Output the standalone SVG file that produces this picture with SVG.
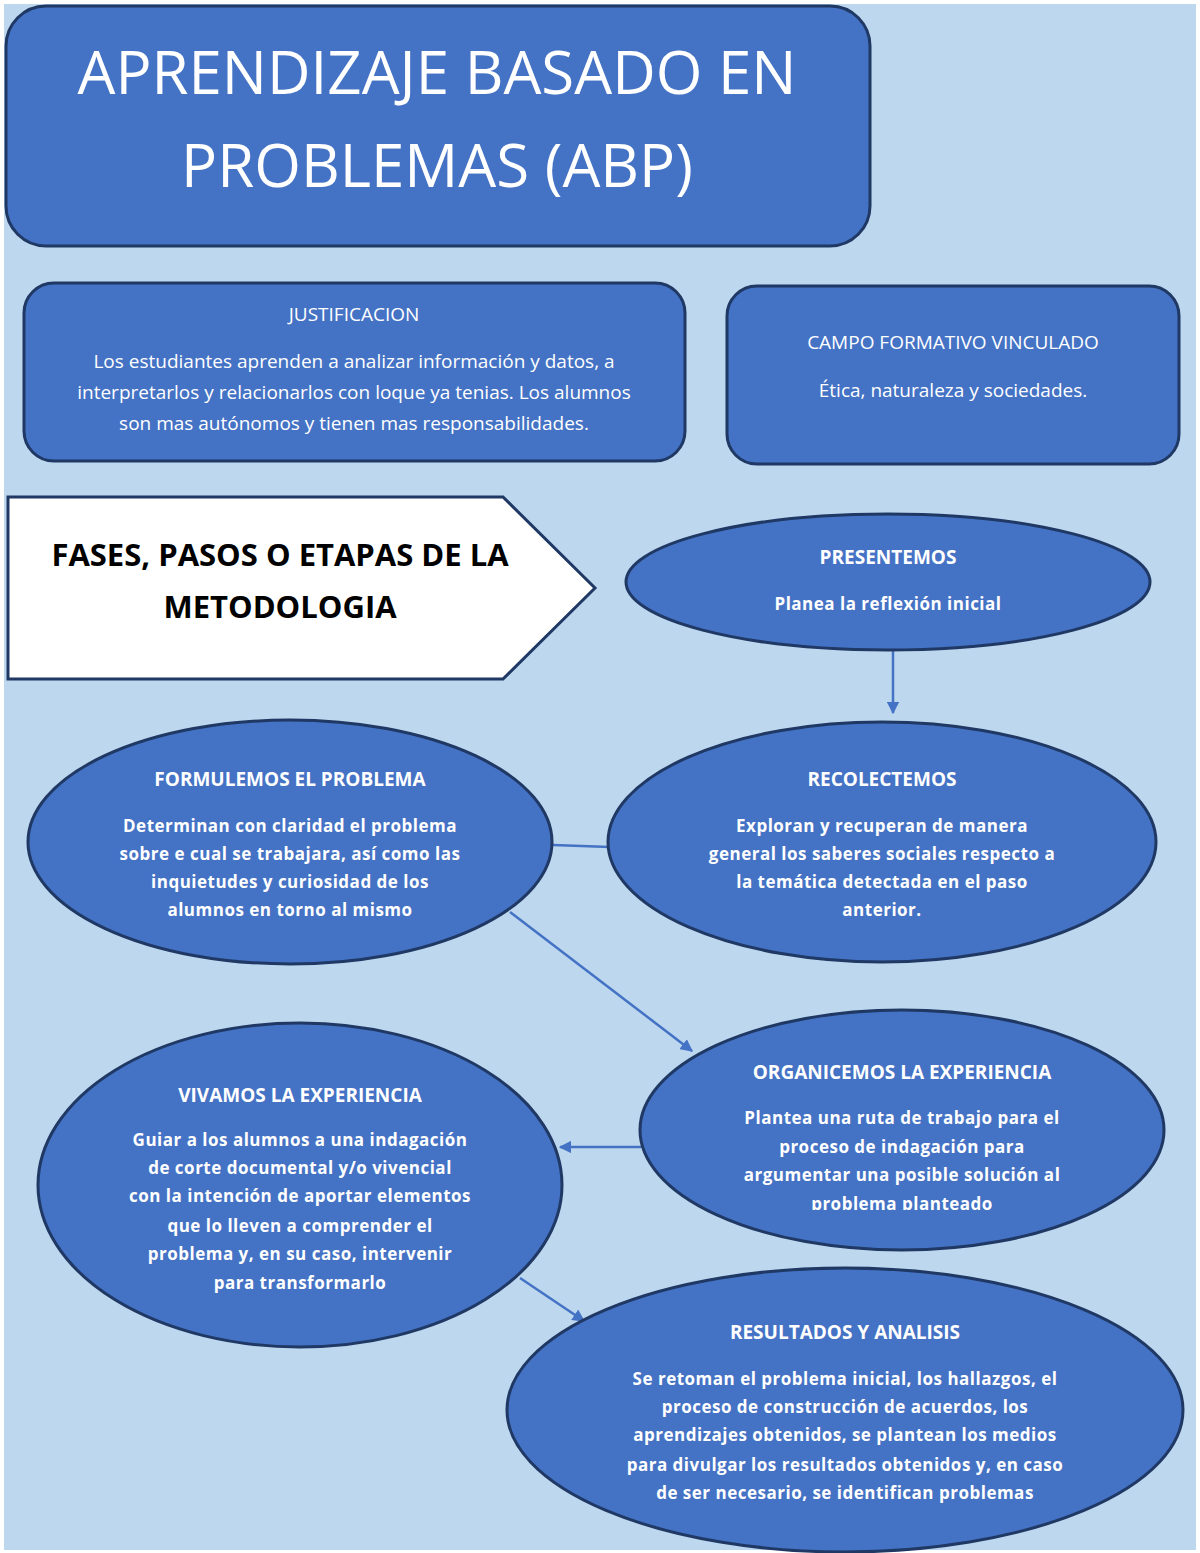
<svg xmlns="http://www.w3.org/2000/svg" width="1200" height="1553" viewBox="0 0 1200 1553">
<style>
.n{fill:#4472C4;stroke:#1F3864;stroke-width:3}
.t{font-family:"Open Sans","Liberation Sans",sans-serif;fill:#fff;text-anchor:middle}
.h{font-size:19px}
.b{font-size:17px;font-weight:bold;letter-spacing:0.5px}
.c{stroke:#4472C4;stroke-width:2.5;fill:none}
</style>
<defs>
<marker id="a" viewBox="0 0 10 10" refX="9" refY="5" markerWidth="5" markerHeight="5" orient="auto"><path d="M0,0L10,5L0,10z" fill="#4472C4"/></marker>
<clipPath id="cl"><rect x="600" y="1000" width="600" height="210"/></clipPath>
</defs>
<rect width="1200" height="1553" fill="#fff"/>
<rect x="4" y="4" width="1192" height="1546" fill="#BDD7EE"/>
<g id="title"><rect class="n" x="6" y="6" width="864" height="240" rx="40"/>
<text class="t" x="437" y="94" font-size="60">APRENDIZAJE BASADO EN</text>
<text class="t" x="437" y="187" font-size="60">PROBLEMAS (ABP)</text></g>
<g id="just"><rect class="n" x="24" y="283" width="661" height="178" rx="30"/>
<text class="t h" x="354" y="321">JUSTIFICACION</text>
<text class="t h" x="354" y="368">Los estudiantes aprenden a analizar información y datos, a</text>
<text class="t h" x="354" y="399">interpretarlos y relacionarlos con loque ya tenias. Los alumnos</text>
<text class="t h" x="354" y="430">son mas autónomos y tienen mas responsabilidades.</text></g>
<g id="campo"><rect class="n" x="727" y="286" width="452" height="178" rx="30"/>
<text class="t h" x="953" y="349">CAMPO FORMATIVO VINCULADO</text>
<text class="t h" x="953" y="397">Ética, naturaleza y sociedades.</text></g>
<g id="fases"><path d="M8,497H503L595,588L503,679H8Z" fill="#fff" stroke="#1F3864" stroke-width="3"/>
<text x="280" y="566" font-family="Open Sans,Liberation Sans,sans-serif" font-size="31" font-weight="bold" text-anchor="middle">FASES, PASOS O ETAPAS DE LA</text>
<text x="280" y="618" font-family="Open Sans,Liberation Sans,sans-serif" font-size="31" font-weight="bold" text-anchor="middle">METODOLOGIA</text></g>
<g id="connectors">
<path class="c" d="M893,650V713" marker-end="url(#a)"/>
<path class="c" d="M553,845L610,847"/>
<path class="c" d="M510,912L692,1051" marker-end="url(#a)"/>
<path class="c" d="M641,1147H560" marker-end="url(#a)"/>
<path class="c" d="M520,1278L584,1321" marker-end="url(#a)"/>
</g>
<g id="presentemos"><ellipse class="n" cx="888" cy="582" rx="262" ry="68"/>
<text class="t h" x="888" y="564" font-weight="bold">PRESENTEMOS</text>
<text class="t b" x="888" y="610">Planea la reflexión inicial</text></g>
<g id="recolectemos"><ellipse class="n" cx="882" cy="842" rx="274" ry="120"/>
<text class="t h" x="882" y="786" font-weight="bold">RECOLECTEMOS</text>
<text class="t b" x="882" y="832">Exploran y recuperan de manera</text>
<text class="t b" x="882" y="860">general los saberes sociales respecto a</text>
<text class="t b" x="882" y="888">la temática detectada en el paso</text>
<text class="t b" x="882" y="916">anterior.</text></g>
<g id="formulemos"><ellipse class="n" cx="290" cy="842" rx="262" ry="122"/>
<text class="t h" x="290" y="786" font-weight="bold">FORMULEMOS EL PROBLEMA</text>
<text class="t b" x="290" y="832">Determinan con claridad el problema</text>
<text class="t b" x="290" y="860">sobre e cual se trabajara, así como las</text>
<text class="t b" x="290" y="888">inquietudes y curiosidad de los</text>
<text class="t b" x="290" y="916">alumnos en torno al mismo</text></g>
<g id="organicemos"><ellipse class="n" cx="902" cy="1130" rx="262" ry="120"/>
<g clip-path="url(#cl)">
<text class="t h" x="902" y="1079" font-weight="bold">ORGANICEMOS LA EXPERIENCIA</text>
<text class="t b" x="902" y="1124">Plantea una ruta de trabajo para el</text>
<text class="t b" x="902" y="1153">proceso de indagación para</text>
<text class="t b" x="902" y="1181">argumentar una posible solución al</text>
<text class="t b" x="902" y="1210">problema planteado</text></g></g>
<g id="vivamos"><ellipse class="n" cx="300" cy="1185" rx="262" ry="162"/>
<text class="t h" x="300" y="1102" font-weight="bold">VIVAMOS LA EXPERIENCIA</text>
<text class="t b" x="300" y="1146">Guiar a los alumnos a una indagación</text>
<text class="t b" x="300" y="1174">de corte documental y/o vivencial</text>
<text class="t b" x="300" y="1202">con la intención de aportar elementos</text>
<text class="t b" x="300" y="1232">que lo lleven a comprender el</text>
<text class="t b" x="300" y="1260">problema y, en su caso, intervenir</text>
<text class="t b" x="300" y="1289">para transformarlo</text></g>
<g id="resultados"><ellipse class="n" cx="845" cy="1410" rx="338" ry="142"/>
<text class="t h" x="845" y="1339" font-weight="bold">RESULTADOS Y ANALISIS</text>
<text class="t b" x="845" y="1385">Se retoman el problema inicial, los hallazgos, el</text>
<text class="t b" x="845" y="1413">proceso de construcción de acuerdos, los</text>
<text class="t b" x="845" y="1441">aprendizajes obtenidos, se plantean los medios</text>
<text class="t b" x="845" y="1471">para divulgar los resultados obtenidos y, en caso</text>
<text class="t b" x="845" y="1499">de ser necesario, se identifican problemas</text></g>
</svg>
